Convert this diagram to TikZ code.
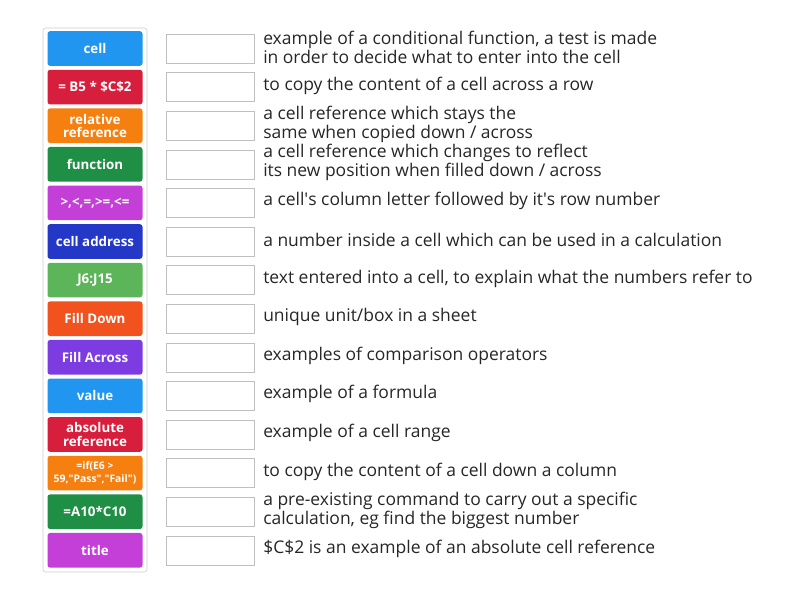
\documentclass[tikz,border=0pt]{standalone}
\usepackage{fontspec}
\setmainfont{Open Sans}
\begin{document}
\begin{tikzpicture}[x=0.75pt,y=-0.75pt,
  btn/.style={rounded corners=2pt,minimum width=71.25pt,minimum height=26pt,text=white,font=\fontsize{10}{10}\selectfont\bfseries,align=center,inner sep=0pt},
  slot/.style={draw=black!25,minimum width=66pt,minimum height=21.75pt,inner sep=0pt},
  desc/.style={anchor=west,align=left,font=\fontsize{13.1}{14.3}\selectfont,text=black!85,inner sep=0pt}]
\useasboundingbox (0,0) rectangle (800,600);
\definecolor{cblue}{HTML}{2196F0}
\definecolor{cred}{HTML}{D71E3C}
\definecolor{corange}{HTML}{F57F0F}
\definecolor{cgreen}{HTML}{1F8F45}
\definecolor{cmag}{HTML}{C33FD8}
\definecolor{cdblue}{HTML}{2338C6}
\definecolor{clgreen}{HTML}{5DB55A}
\definecolor{cfd}{HTML}{F2521E}
\definecolor{cpur}{HTML}{7C3CE2}
\node[draw=black!20,rounded corners=2pt,minimum width=78pt,minimum height=408pt,inner sep=0pt] (panel) at (95,300) {};
\foreach \i/\c/\t in {0/cblue/cell,1/cred/{= B5 * \$C\$2},2/corange/{relative\\reference},3/cgreen/function,4/cmag/{>,<,=,>=,<=},5/cdblue/cell address,6/clgreen/J6:J15,7/cfd/Fill Down,8/cpur/Fill Across,9/cblue/value,10/cred/{absolute\\reference},11/corange/{\fontsize{7.8}{8.3}\selectfont =if(E6 >\\\fontsize{7.8}{8.3}\selectfont 59,\textquotedbl Pass\textquotedbl ,\textquotedbl Fail\textquotedbl )},12/cgreen/=A10*C10,13/cmag/title}{
  \node[btn,fill=\c] (b\i) at (95,48.5+38.6*\i) {\t};
  \node[slot] (s\i) at (210,48.5+38.6*\i) {};
}
\foreach \i/\t in {0/{example of a conditional function, a test is made\\in order to decide what to enter into the cell},1/{to copy the content of a cell across a row},2/{a cell reference which stays the\\same when copied down / across},3/{a cell reference which changes to reflect\\its new position when filled down / across},4/{a cell\textquotesingle s column letter followed by it\textquotesingle s row number},5/{a number inside a cell which can be used in a calculation},6/{text entered into a cell, to explain what the numbers refer to},7/{unique unit/box in a sheet},8/{examples of comparison operators},9/{example of a formula},10/{example of a cell range},11/{to copy the content of a cell down a column},12/{a pre-existing command to carry out a specific\\calculation, eg find the biggest number},13/{\$C\$2 is an example of an absolute cell reference}}{
  \node[desc] (d\i) at (263,47+38.6*\i) {\t};
}
\end{tikzpicture}
\end{document}
